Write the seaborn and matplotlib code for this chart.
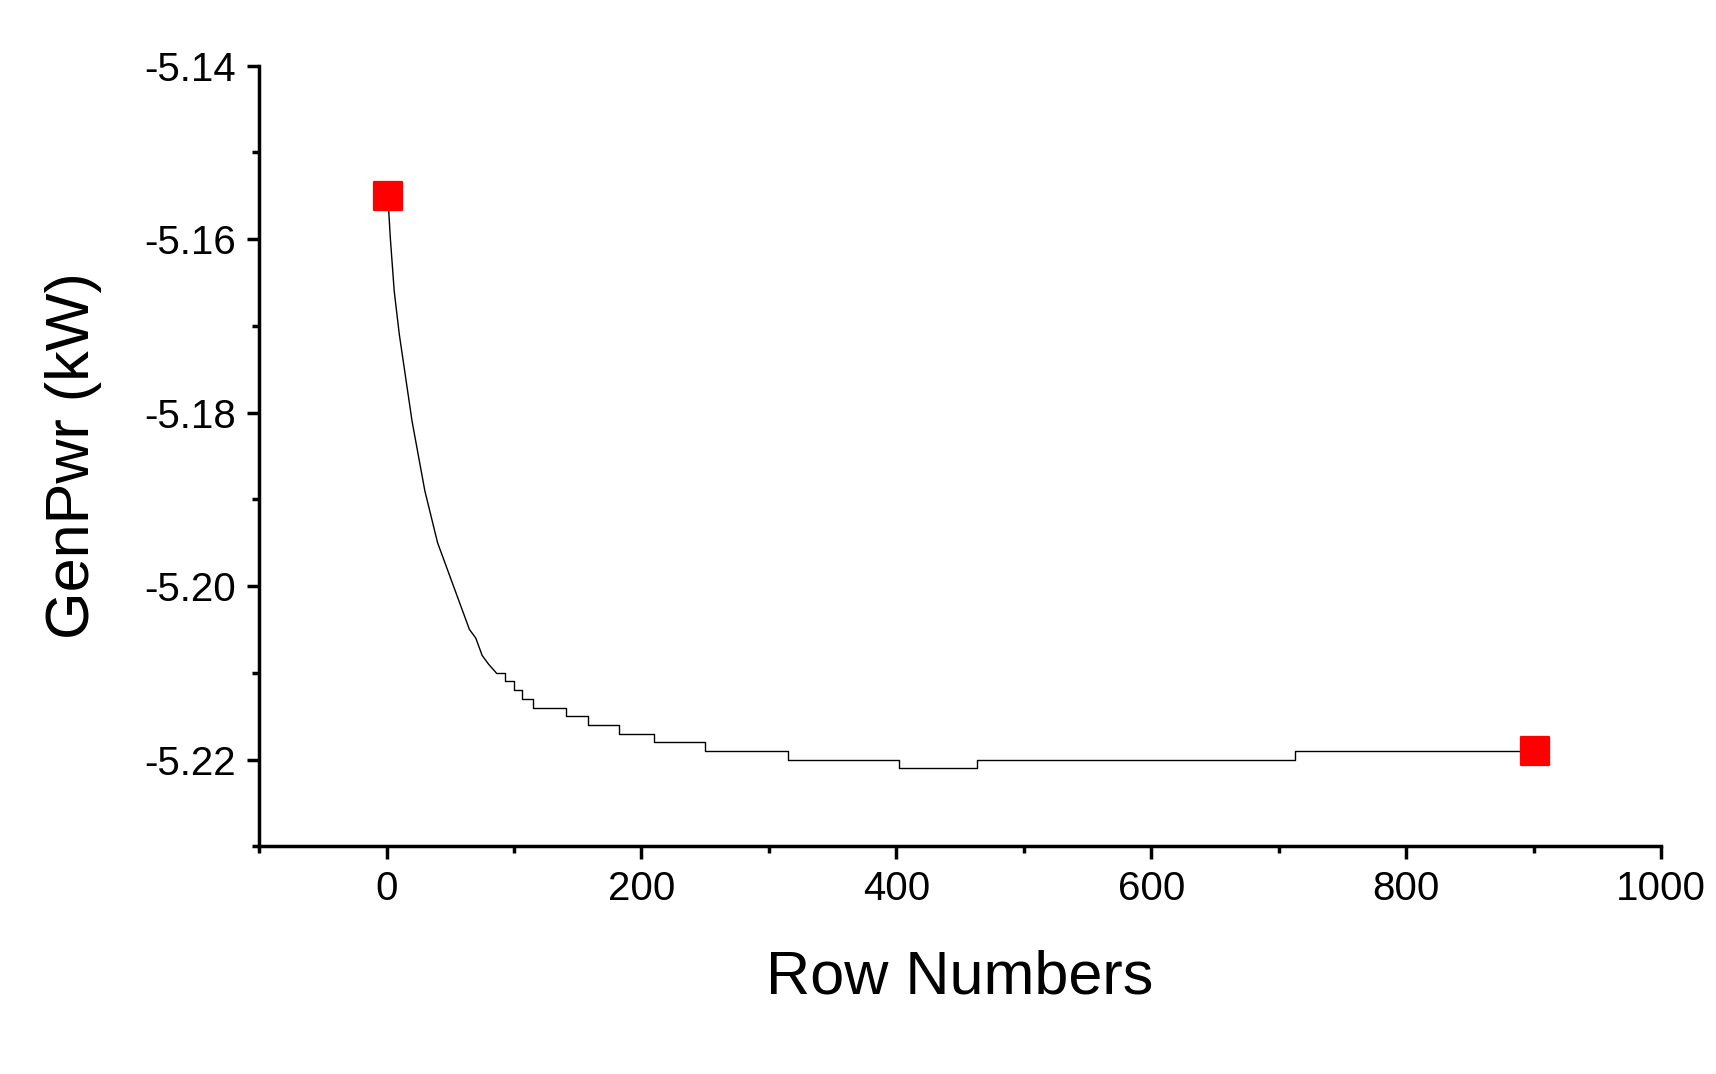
import matplotlib
matplotlib.use("Agg")
import matplotlib.pyplot as plt
import seaborn as sns
import pandas as pd
from matplotlib.ticker import MultipleLocator

rows = [1, 3, 6, 10, 15, 20, 25, 30, 35, 40, 45, 50, 55, 60, 65, 70, 75, 80, 86, 93,
        100, 106, 115, 141, 158, 182, 210, 250, 315, 402, 463, 713, 901]
genpwr = [-5.155, -5.160, -5.166, -5.171, -5.176, -5.181, -5.185, -5.189, -5.192, -5.195,
          -5.197, -5.199, -5.201, -5.203, -5.205, -5.206, -5.208, -5.209, -5.210, -5.211,
          -5.212, -5.213, -5.214, -5.215, -5.216, -5.217, -5.218, -5.219, -5.220, -5.221,
          -5.220, -5.219, -5.219]
df = pd.DataFrame({"Row": rows, "GenPwr": genpwr})

sns.set_style("ticks")
plt.rcParams['font.family'] = ['Liberation Sans', 'DejaVu Sans']
plt.rcParams['text.color'] = 'black'
plt.rcParams['axes.labelcolor'] = 'black'
plt.rcParams['xtick.color'] = 'black'
plt.rcParams['ytick.color'] = 'black'
plt.rcParams['axes.edgecolor'] = 'black'
fig = plt.figure(figsize=(17.16, 10.74), dpi=100)
ax = fig.add_axes([0.151, 0.212, 0.817, 0.727])
smooth = df[df["Row"] <= 86]
steps = df[df["Row"] >= 86]
sns.lineplot(data=smooth, x="Row", y="GenPwr", ax=ax, color="black", linewidth=1,
             estimator=None)
sns.lineplot(data=steps, x="Row", y="GenPwr", ax=ax, color="black", linewidth=1,
             drawstyle="steps-post", estimator=None)
ends = df.iloc[[0, -1]]
sns.scatterplot(data=ends, x="Row", y="GenPwr", ax=ax, marker="s", s=420,
                color="#ff0000", edgecolor="#ff0000", zorder=5)
ax.set_xlim(-100, 1000)
ax.set_ylim(-5.23, -5.14)
ax.xaxis.set_major_locator(MultipleLocator(200))
ax.xaxis.set_minor_locator(MultipleLocator(100))
ax.yaxis.set_major_locator(MultipleLocator(0.02))
ax.yaxis.set_minor_locator(MultipleLocator(0.01))
ax.yaxis.set_major_formatter(matplotlib.ticker.FormatStrFormatter('%.2f'))
for s in ["top", "right"]:
    ax.spines[s].set_visible(False)
for s in ["left", "bottom"]:
    ax.spines[s].set_linewidth(2.5)
ax.tick_params(which="major", length=9, width=2.5, labelsize=29, pad=8)
ax.tick_params(which="minor", length=5, width=2.5)
ax.set_xlabel("Row Numbers", fontsize=44, labelpad=30)
ax.set_ylabel("GenPwr (kW)", fontsize=44, labelpad=30)
fig.savefig("out.png", dpi=100)
